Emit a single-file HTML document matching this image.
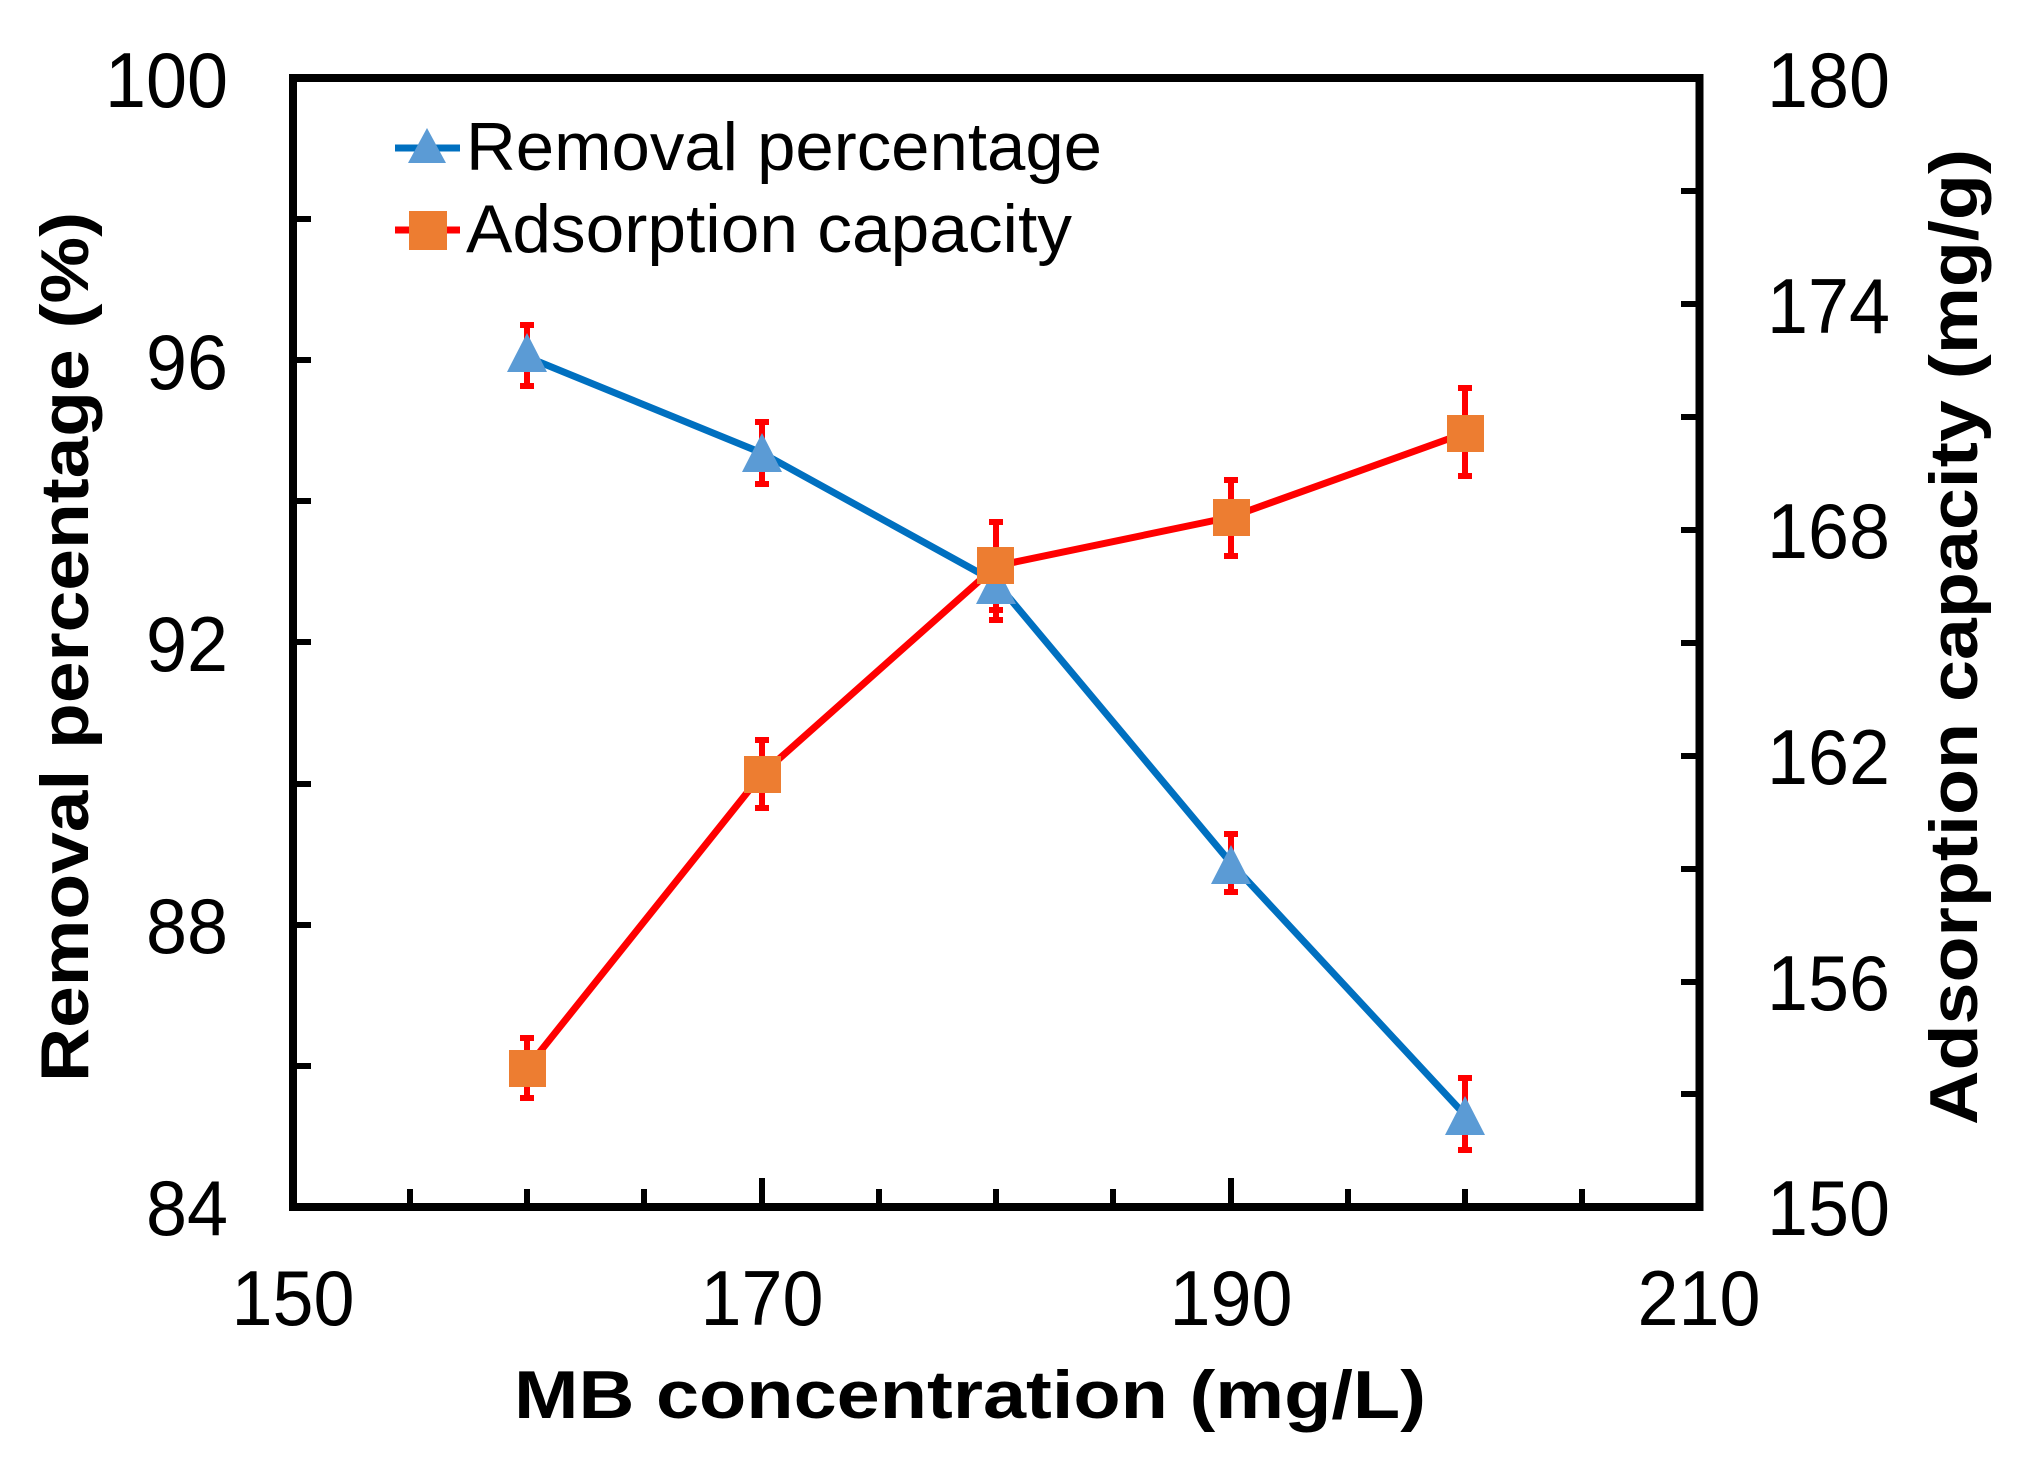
<!DOCTYPE html>
<html><head><meta charset="utf-8"><style>html,body{margin:0;padding:0;background:#fff}</style></head>
<body>
<svg width="2028" height="1468" viewBox="0 0 2028 1468" xmlns="http://www.w3.org/2000/svg" font-family="Liberation Sans, Arial, sans-serif">
<rect width="2028" height="1468" fill="#fff"/>
<!-- ticks -->
<g stroke="#000" stroke-width="6">
<line x1="293" y1="219" x2="311" y2="219"/><line x1="293" y1="360" x2="311" y2="360"/><line x1="293" y1="501" x2="311" y2="501"/><line x1="293" y1="642" x2="311" y2="642"/><line x1="293" y1="784" x2="311" y2="784"/><line x1="293" y1="925" x2="311" y2="925"/><line x1="293" y1="1066" x2="311" y2="1066"/>
<line x1="1699" y1="191" x2="1681" y2="191"/><line x1="1699" y1="304" x2="1681" y2="304"/><line x1="1699" y1="417" x2="1681" y2="417"/><line x1="1699" y1="530" x2="1681" y2="530"/><line x1="1699" y1="643" x2="1681" y2="643"/><line x1="1699" y1="756" x2="1681" y2="756"/><line x1="1699" y1="869" x2="1681" y2="869"/><line x1="1699" y1="982" x2="1681" y2="982"/><line x1="1699" y1="1094" x2="1681" y2="1094"/>
<line x1="410" y1="1207" x2="410" y2="1189"/><line x1="527" y1="1207" x2="527" y2="1189"/><line x1="644" y1="1207" x2="644" y2="1189"/><line x1="762" y1="1207" x2="762" y2="1178"/><line x1="879" y1="1207" x2="879" y2="1189"/><line x1="996" y1="1207" x2="996" y2="1189"/><line x1="1113" y1="1207" x2="1113" y2="1189"/><line x1="1231" y1="1207" x2="1231" y2="1178"/><line x1="1348" y1="1207" x2="1348" y2="1189"/><line x1="1465" y1="1207" x2="1465" y2="1189"/><line x1="1582" y1="1207" x2="1582" y2="1189"/>
</g>
<rect x="293" y="78" width="1406.5" height="1129" fill="none" stroke="#000" stroke-width="8"/>
<!-- tick labels -->
<g font-size="78" fill="#000" lengthAdjust="spacingAndGlyphs">
<g text-anchor="end">
<text x="228" y="107" textLength="123" lengthAdjust="spacingAndGlyphs">100</text><text x="228" y="389" textLength="82" lengthAdjust="spacingAndGlyphs">96</text><text x="228" y="671" textLength="82" lengthAdjust="spacingAndGlyphs">92</text><text x="228" y="953" textLength="82" lengthAdjust="spacingAndGlyphs">88</text><text x="228" y="1235" textLength="82" lengthAdjust="spacingAndGlyphs">84</text>
</g>
<g text-anchor="start">
<text x="1767" y="107" textLength="123" lengthAdjust="spacingAndGlyphs">180</text><text x="1767" y="333" textLength="123" lengthAdjust="spacingAndGlyphs">174</text><text x="1767" y="558" textLength="123" lengthAdjust="spacingAndGlyphs">168</text><text x="1767" y="784" textLength="123" lengthAdjust="spacingAndGlyphs">162</text><text x="1767" y="1010" textLength="123" lengthAdjust="spacingAndGlyphs">156</text><text x="1767" y="1235" textLength="123" lengthAdjust="spacingAndGlyphs">150</text>
</g>
<g text-anchor="middle">
<text x="293" y="1325" textLength="123" lengthAdjust="spacingAndGlyphs">150</text><text x="762" y="1325" textLength="123" lengthAdjust="spacingAndGlyphs">170</text><text x="1231" y="1325" textLength="123" lengthAdjust="spacingAndGlyphs">190</text><text x="1699" y="1325" textLength="123" lengthAdjust="spacingAndGlyphs">210</text>
</g>
</g>
<!-- axis titles -->
<text x="970" y="1418" font-size="68" font-weight="bold" text-anchor="middle" textLength="912" lengthAdjust="spacingAndGlyphs">MB concentration  (mg/L)</text>
<text transform="translate(88,647) rotate(-90)" font-size="68" font-weight="bold" text-anchor="middle" textLength="870" lengthAdjust="spacingAndGlyphs">Removal percentage (%)</text>
<text transform="translate(1977,637) rotate(-90)" font-size="68" font-weight="bold" text-anchor="middle" textLength="976" lengthAdjust="spacingAndGlyphs">Adsorption capacity (mg/g)</text>
<!-- blue series -->
<polyline points="527,357 762,453 996,582 1231,863 1465,1115" fill="none" stroke="#0070C0" stroke-width="7"/>
<!-- red series -->
<polyline points="527,1068 762,774 996,566 1231,517 1465,433" fill="none" stroke="#FF0000" stroke-width="7"/>
<!-- error bars -->
<g stroke="#FF0000" stroke-width="6">
<path d="M527,325V386M520,325h14M520,386h14"/>
<path d="M762,422V484M755,422h14M755,484h14"/>
<path d="M996,555V620M989,555h14M989,620h14"/>
<path d="M1231,834V892M1224,834h14M1224,892h14"/>
<path d="M1465,1078V1150M1458,1078h14M1458,1150h14"/>
<path d="M527,1038V1098M520,1038h14M520,1098h14"/>
<path d="M762,740V808M755,740h14M755,808h14"/>
<path d="M996,522V610M989,522h14M989,610h14"/>
<path d="M1231,480V556M1224,480h14M1224,556h14"/>
<path d="M1465,388V476M1458,388h14M1458,476h14"/>
</g>
<g fill="#5B9BD5">
<polygon points="527,333 507,372 547,372"/>
<polygon points="762,433 742,472 782,472"/>
<polygon points="996,565 976,604 1016,604"/>
<polygon points="1231,845 1211,884 1251,884"/>
<polygon points="1465,1096 1445,1135 1485,1135"/>
</g>
<g fill="#ED7D31">
<rect x="509" y="1050" width="37" height="37"/>
<rect x="744" y="756" width="37" height="37"/>
<rect x="977" y="547" width="37" height="37"/>
<rect x="1213" y="499" width="37" height="37"/>
<rect x="1447" y="415" width="37" height="37"/>
</g>
<!-- legend -->
<line x1="395" y1="148" x2="460" y2="148" stroke="#0070C0" stroke-width="7"/>
<polygon points="427,128 408,163 446,163" fill="#5B9BD5"/>
<text x="466" y="170" font-size="68" textLength="636" lengthAdjust="spacingAndGlyphs">Removal percentage</text>
<line x1="395" y1="230" x2="460" y2="230" stroke="#FF0000" stroke-width="7"/>
<rect x="409" y="211" width="38" height="39" fill="#ED7D31"/>
<text x="466" y="252" font-size="68" textLength="606" lengthAdjust="spacingAndGlyphs">Adsorption capacity</text>
</svg>
</body></html>
